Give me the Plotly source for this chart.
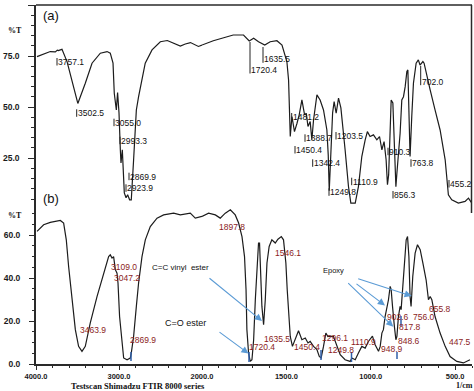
import plotly.graph_objects as go

# ---------------- data (wavenumber 1/cm, %T) ----------------
wn_a = [3988, 3828, 3767, 3743, 3731, 3687, 3626, 3566, 3496, 3406, 3325, 3225, 3144, 3105,
        3072, 3057, 3032, 3017, 3000, 2984, 2976, 2960, 2936, 2915, 2896, 2872, 2852, 2824,
        2791, 2764, 2723, 2684, 2602, 2502, 2418, 2346, 2261, 2201, 2139, 2043, 2000,
        1933, 1815, 1754, 1720, 1694, 1665, 1628, 1596, 1556, 1526, 1497, 1487, 1477, 1467,
        1452, 1437, 1424, 1408, 1392, 1382, 1372, 1359, 1349, 1339, 1319, 1300, 1280, 1260,
        1252, 1246, 1237, 1226, 1217, 1205, 1191, 1177, 1152, 1132, 1118, 1092, 1073, 1053,
        1033, 1020, 1004, 984, 964, 948, 934, 921, 909, 901, 894, 879, 869, 861, 851, 845,
        826, 816, 806, 796, 786, 780, 774, 767, 757, 747, 731, 718, 708, 691, 684, 668, 648,
        619, 589, 559, 540, 520, 481, 441, 421, 401]
t_a = [74.7, 77.2, 77.0, 77.9, 77.7, 78.3, 72.3, 63.3, 51.8, 61.7, 71.5, 76.4, 77.2, 76.4,
       71.5, 56.8, 48.6, 57.1, 47.2, 29.1, 22.6, 29.1, 8.0, 5.6, 7.1, 4.6, 4.6, 24.2,
       48.6, 55.1, 63.3, 71.5, 78.0, 82.0, 82.6, 81.4, 79.9, 80.9, 81.6, 79.7, 80.4,
       82.5, 85.3, 85.3, 82.4, 83.7, 82.0, 80.4, 82.0, 82.5, 80.4, 72.3, 63.3, 35.6, 45.4,
       38.0, 42.1, 46.2, 53.5, 46.2, 47.0, 40.5, 42.9, 34.0, 43.7, 56.0, 53.5, 48.6, 38.8,
       26.6, 9.0, 29.0, 47.2, 52.7, 47.0, 54.4, 49.6, 29.1, 11.1, 3.0, 3.0, 11.1, 25.8,
       34.0, 38.0, 35.6, 36.4, 34.0, 35.6, 29.1, 33.1, 24.2, 12.0, 16.8, 53.5, 52.0, 34.0, 11.0, 17.7,
       37.2, 53.5, 55.1, 60.0, 67.4, 68.2, 53.5, 25.8, 45.4, 61.7, 71.5, 73.1, 70.6, 72.3, 71.5, 64.9, 58.4,
       48.6, 38.8, 24.2, 7.1, 4.6, 3.0, 3.8, 5.4, 3.0]

wn_b = [3988, 3908, 3828, 3707, 3667, 3635, 3607, 3566, 3526, 3487, 3446, 3406, 3346, 3265,
        3185, 3125, 3105, 3084, 3065, 3044, 3024, 3012, 2993, 2964, 2944, 2903, 2864, 2852,
        2824, 2791, 2764, 2723, 2683, 2623, 2542, 2462, 2342, 2261, 2141, 2081, 2000,
        1961, 1921, 1892, 1862, 1832, 1803, 1783, 1763, 1748, 1739, 1734, 1724, 1714, 1704,
        1694, 1684, 1674, 1665, 1659, 1651, 1645, 1635, 1625, 1615, 1602, 1586, 1566, 1550,
        1530, 1517, 1503, 1495, 1487, 1477, 1464, 1448, 1428, 1408, 1388, 1372, 1359, 1339,
        1319, 1305, 1294, 1280, 1266, 1254, 1240, 1221, 1201, 1181, 1152, 1122, 1112, 1092,
        1073, 1053, 1033, 1014, 990, 974, 954, 944, 934, 925, 915, 905, 895, 885, 879, 871,
        865, 860, 851, 845, 836, 826, 820, 810, 800, 790, 782, 774, 767, 761, 751, 737, 723,
        707, 691, 672, 658, 648, 638, 619, 589, 559, 530, 490, 451, 412]
t_b = [61.7, 64.8, 65.9, 66.8, 65.6, 57.8, 45.4, 29.9, 16.0, 8.2, 5.9, 8.2, 19.1, 31.4,
       42.3, 50.0, 50.8, 49.3, 50.0, 43.9, 42.3, 37.7, 22.1, 9.8, 2.8, 2.0, 2.8, 5.1,
       12.8, 26.8, 37.7, 50.0, 57.8, 64.0, 67.9, 69.4, 70.2, 69.4, 70.2, 67.9, 68.7,
       70.2, 69.4, 67.9, 70.2, 71.8, 69.4, 65.6, 59.3, 50.0, 34.6, 16.0, 5.1, 1.2, 2.0,
       11.3, 29.9, 47.0, 56.3, 56.3, 42.3, 26.8, 18.3, 29.9, 47.0, 54.7, 57.8, 56.3, 58.1,
       59.3, 57.8, 47.0, 34.6, 22.1, 12.8, 8.2, 11.3, 15.5, 11.3, 12.1, 9.8, 10.5, 8.2,
       6.7, 3.5, 2.8, 8.2, 14.4, 12.8, 13.0, 12.8, 8.2, 4.3, 2.0, 1.2, 2.8, 2.0,
       5.1, 8.2, 7.4, 10.5, 13.0, 9.0, 5.9, 8.2, 14.4, 16.0, 22.1, 25.3, 29.9, 36.1, 34.6, 26.8,
       19.8, 17.5, 11.3, 12.8, 22.1, 26.8, 25.3, 37.7, 50.0, 57.8, 59.3, 50.0, 31.4, 26.8, 40.7, 51.6, 55.5,
       53.2, 47.0, 39.2, 29.9, 31.4, 29.9, 22.1, 14.4, 8.2, 3.5, 1.2, 0.5, 2.0]

peak_labels_a = ["3757.1", "3502.5", "3055.0", "2993.3", "2869.9", "2923.9", "1720.4", "1635.5",
                 "1481.2", "1388.7", "1450.4", "1342.4", "1249.8", "1203.5", "1110.9", "910.3",
                 "856.3", "763.8", "702.0", "455.2"]
peak_labels_b = ["1897.8", "1546.1", "3109.0", "3047.2", "3463.9", "2869.9", "1635.5", "1720.4",
                 "1450.4", "1296.1", "1249.8", "1110.9", "948.9", "848.6", "817.8", "902.6",
                 "756.0", "655.8", "447.5"]

x_ticks_left = [4000, 3000]
x_ticks_right = [2000, 1500, 1000, 500]
y_ticks_a = [100, 75, 50, 25]
y_ticks_b = [60, 40, 20, 0]

# ---------------- layout helpers ----------------
W, H = 474, 391
ML, MR, MT, MB = 36, 2, 5, 27
PW, PH = W - ML - MR, H - MT - MB
SPLIT = 2000
DOM = 166 / PW  # width share of the 4000-2000 compressed section


def px(x):
    return (x - ML) / PW


def py(y):
    return (H - MB - y) / PH


def halves(wn, t):
    left = [(w, v) for w, v in zip(wn, t) if w >= SPLIT]
    right = [(w, v) for w, v in zip(wn, t) if w <= SPLIT]
    return left, right


LINE = dict(color="#1c1c1c", width=1.2)
fig = go.Figure()
for wn, t, yax in ((wn_a, t_a, "y"), (wn_b, t_b, "y2")):
    left, right = halves(wn, t)
    fig.add_trace(go.Scatter(x=[p[0] for p in left], y=[p[1] for p in left], mode="lines",
                             line=LINE, xaxis="x", yaxis=yax, hoverinfo="skip"))
    fig.add_trace(go.Scatter(x=[p[0] for p in right], y=[p[1] for p in right], mode="lines",
                             line=LINE, xaxis="x2", yaxis=yax, hoverinfo="skip"))

AX = "#2a2a2a"
xtickfont = dict(family="Liberation Sans", size=7.5, color="#1a1a1a", weight="bold")
ytickfont = dict(family="Liberation Sans", size=8.5, color="#1a1a1a", weight="bold")
common_x = dict(showgrid=False, zeroline=False, showline=True, linecolor=AX, linewidth=1.5,
                ticks="outside", ticklen=4, tickwidth=1.2, tickcolor=AX, tickfont=xtickfont,
                anchor="y", fixedrange=True, ticklabelstandoff=0)
common_y = dict(showgrid=False, zeroline=False, ticks="outside", ticklen=6, tickwidth=1.2,
                tickcolor=AX, tickfont=ytickfont, anchor="x", side="left", fixedrange=True,
                ticklabelstandoff=7)

fig.update_layout(
    width=W, height=H, margin=dict(l=ML, r=MR, t=MT, b=MB),
    plot_bgcolor="white", paper_bgcolor="white", showlegend=False,
    xaxis=dict(domain=[0, DOM], range=[4000, SPLIT], tickmode="array", tickvals=x_ticks_left,
               ticktext=[f"{v:.1f}" for v in x_ticks_left],
               minor=dict(tickmode="array", tickvals=list(range(3800, SPLIT, -200)),
                          ticks="outside", ticklen=2.5, tickcolor=AX, tickwidth=1), **common_x),
    xaxis2=dict(domain=[DOM, 1], range=[SPLIT, 400], tickmode="array", tickvals=x_ticks_right,
                ticktext=[f"{v:.1f}" for v in x_ticks_right],
                minor=dict(tickmode="array", tickvals=list(range(1900, 399, -100)),
                           ticks="outside", ticklen=2.5, tickcolor=AX, tickwidth=1), **common_x),
    yaxis=dict(domain=[0, 1], range=[-75.8, 100], tickmode="array", tickvals=y_ticks_a,
               ticktext=[f"{v:.1f}" for v in y_ticks_a], showline=True, linecolor=AX, linewidth=1.5,
               minor=dict(tickmode="array", tickvals=list(range(95, 4, -5)), ticks="outside",
                          ticklen=3, tickcolor=AX, tickwidth=1), **common_y),
    yaxis2=dict(overlaying="y", range=[0, 167.1], tickmode="array", tickvals=y_ticks_b,
                ticktext=[f"{v:.1f}" for v in y_ticks_b], showline=False,
                minor=dict(tickmode="array", tickvals=list(range(5, 71, 5)), ticks="outside",
                           ticklen=3, tickcolor=AX, tickwidth=1), **common_y),
)

# frame (top + upper right)
shapes = [
    dict(type="line", xref="paper", yref="paper", x0=0, x1=px(472), y0=1, y1=1,
         line=dict(color=AX, width=1.5)),
    dict(type="line", xref="paper", yref="paper", x0=px(471.5), x1=px(471.5), y0=1, y1=py(213),
         line=dict(color=AX, width=1.5)),
]

ann = []
# peak labels panel (a)
pos_a = [(57, 62), (76.7, 113.3), (114, 122.7), (120, 140.7), (129, 176.7), (126, 188.3),
         (250, 70), (263, 59.3), (291.7, 117), (305, 138.3), (295, 150), (312.7, 163.3),
         (329, 192.3), (336, 136), (351.7, 181.7), (388, 151.7), (393, 195), (411, 163.3),
         (420.7, 81.7), (449, 184)]
tick_top_a = {"1720.4": 42, "1635.5": 47, "702.0": 66}
for lab, (xl, yc) in zip(peak_labels_a, pos_a):
    ann.append(dict(text=lab, x=px(xl), y=py(yc), xref="paper", yref="paper", xanchor="left",
                    yanchor="middle", showarrow=False, borderpad=0,
                    font=dict(family="Liberation Sans", size=8.5, color="#111")))
    top = tick_top_a.get(lab, yc - 4)
    shapes.append(dict(type="line", xref="paper", yref="paper", x0=px(xl), x1=px(xl),
                       y0=py(top), y1=py(yc + 3.5), line=dict(color="#222", width=1)))

pos_b = [(218, 227.3), (274, 253.3), (110, 267.3), (113, 278.3), (79, 330), (129, 340),
         (263, 339), (248, 347.3), (293, 346.7), (321, 338.3), (327, 350), (350, 341.7),
         (380, 349.3), (397, 340.7), (398, 326.7), (386, 316.7), (412, 317.3), (428, 309),
         (448, 341.7)]
for lab, (xl, yc) in zip(peak_labels_b, pos_b):
    ann.append(dict(text=lab, x=px(xl), y=py(yc), xref="paper", yref="paper", xanchor="left",
                    yanchor="middle", showarrow=False, borderpad=0,
                    font=dict(family="Liberation Sans", size=8.5, color="#8b1c1c")))

# blue peak markers in panel (b)
for xm, y0m, y1m in [(131, 352, 361), (249, 352, 362), (321, 350, 360), (351.5, 352, 362),
                     (401, 316, 326), (397, 352, 359)]:
    shapes.append(dict(type="line", xref="paper", yref="paper", x0=px(xm), x1=px(xm),
                       y0=py(y0m), y1=py(y1m), line=dict(color="#2f5fa8", width=1.5)))

BOLD = dict(family="Liberation Sans", color="#111")
ann += [
    dict(text="(a)", x=px(41), y=py(15), xref="paper", yref="paper", xanchor="left",
         yanchor="middle", showarrow=False, font=dict(family="Liberation Sans", size=13, color="#111")),
    dict(text="(b)", x=px(41), y=py(198.5), xref="paper", yref="paper", xanchor="left",
         yanchor="middle", showarrow=False, font=dict(family="Liberation Sans", size=13, color="#111")),
    dict(text="%T", x=px(15), y=py(30.5), xref="paper", yref="paper", xanchor="center",
         yanchor="middle", showarrow=False, font=dict(family="Liberation Serif", size=8, color="#111", weight="bold")),
    dict(text="%T", x=px(15), y=py(215), xref="paper", yref="paper", xanchor="center",
         yanchor="middle", showarrow=False, font=dict(family="Liberation Serif", size=8, color="#111", weight="bold")),
    dict(text="Testscan Shimadzu FTIR 8000 series", x=px(137.5), y=py(385.5), xref="paper",
         yref="paper", xanchor="center", yanchor="middle", showarrow=False,
         font=dict(family="Liberation Serif", size=8.5, color="#111", weight="bold")),
    dict(text="1/cm", x=px(464), y=py(385.5), xref="paper", yref="paper", xanchor="center",
         yanchor="middle", showarrow=False, font=dict(family="Liberation Serif", size=8, color="#111", weight="bold")),
    dict(text="C=C vinyl  ester", x=px(150), y=py(267.3), xref="paper", yref="paper", xanchor="left",
         yanchor="middle", showarrow=False, font=dict(size=8, **BOLD)),
    dict(text="C=O ester", x=px(163), y=py(322.7), xref="paper", yref="paper", xanchor="left",
         yanchor="middle", showarrow=False, font=dict(size=9, **BOLD)),
    dict(text="Epoxy", x=px(321), y=py(270), xref="paper", yref="paper", xanchor="left",
         yanchor="middle", showarrow=False, font=dict(size=7.5, **BOLD)),
]

# arrows (tail px -> head px)
ARROW = "#5b9bd5"
for (tx, ty), (hx, hy) in [((208, 277), (262, 321)), ((218, 331), (248.5, 353.5)),
                           ((356.7, 278.3), (411.7, 296)), ((355, 282.7), (385, 305.5)),
                           ((346.7, 281.7), (393.3, 326.7))]:
    ann.append(dict(text="", x=px(hx), y=py(hy), xref="paper", yref="paper", showarrow=True,
                    ax=tx - hx, ay=ty - hy, axref="pixel", ayref="pixel", arrowhead=2,
                    arrowsize=1.3, arrowwidth=1.1, arrowcolor=ARROW, standoff=0))

fig.update_layout(annotations=ann, shapes=shapes)
fig.write_html("out.html", config={"displayModeBar": False},
               post_script="document.body.style.margin='0px';")
